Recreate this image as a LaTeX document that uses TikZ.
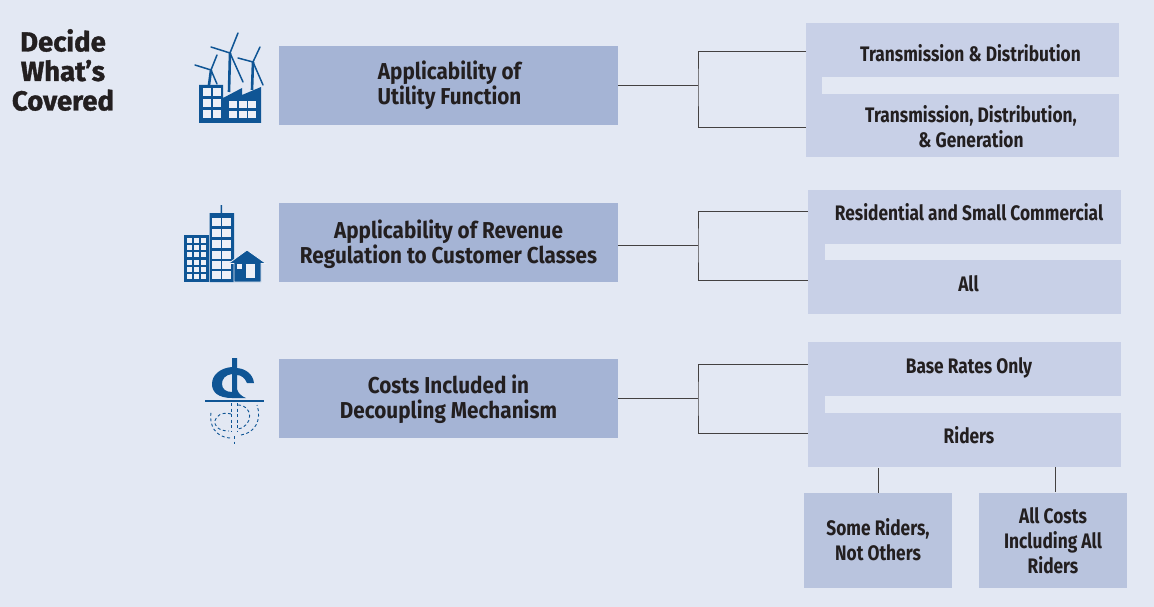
\documentclass[tikz,border=0pt]{standalone}
\usepackage{fontspec}
\setmainfont{Fira Sans}[BoldFont={Fira Sans Bold}]
\newfontfamily\lblfont{Fira Sans}[FakeStretch=0.825,BoldFont={Fira Sans Bold}]
\newfontfamily\mainfont{Fira Sans}[FakeStretch=0.90,BoldFont={Fira Sans Bold}]
\newfontfamily\ttlfont{Fira Sans}[FakeBold=1.2,BoldFont={Fira Sans Bold}]
\definecolor{bg}{HTML}{E3E8F3}
\definecolor{mainbox}{HTML}{A5B4D5}
\definecolor{subbox}{HTML}{C8D0E7}
\definecolor{leafbox}{HTML}{B9C4DE}
\definecolor{ink}{HTML}{231F20}
\definecolor{icon}{HTML}{0F5595}
\definecolor{win}{HTML}{EDF0F7}
\tikzset{
  x=1pt,y=-1pt,
  boxbase/.style={anchor=north west,inner sep=0pt,outer sep=0pt},
  lbl/.style={align=center,text=ink,inner sep=0pt,font=\lblfont\fontsize{21}{25}\selectfont\bfseries},
  mainlbl/.style={align=center,text=ink,inner sep=0pt,font=\mainfont\fontsize{23}{25}\selectfont\bfseries},
  mainnode/.style={boxbase,fill=mainbox,minimum width=339pt,minimum height=79pt},
  subnode/.style={boxbase,fill=subbox,minimum width=313pt,minimum height=54pt},
  leafnode/.style={boxbase,fill=leafbox,minimum width=148pt,minimum height=95pt},
  link/.style={draw=ink!85!white,line width=0.9pt},
  iconfill/.style={fill=icon,draw=none},
  blade/.style={draw=icon,line width=1.5pt,line cap=round},
  tower/.style={draw=icon,line width=2.6pt},
  winfill/.style={fill=win,draw=none},
}
\begin{document}
\begin{tikzpicture}
\useasboundingbox (0,0) rectangle (1154,607);
\fill[bg] (0,0) rectangle (1154,607);
\node[anchor=center,align=center,text=ink,inner sep=0pt,font=\ttlfont\fontsize{27.5}{29.5}\selectfont\bfseries] (title) at (63,70) {Decide\\What’s\\Covered};
% left bars that join each pair of boxes
\fill[subbox] (806,23) rectangle (822,157);
\fill[subbox] (808,190) rectangle (825,314);
\fill[subbox] (808,342) rectangle (825,467);
\node[mainnode,label={[mainlbl,xshift=1pt,yshift=0pt]center:Applicability of\\Utility Function}] (m1) at (279,46) {};
\node[mainnode,label={[mainlbl,yshift=-2pt]center:Applicability of Revenue\\Regulation to Customer Classes}] (m2) at (279,203) {};
\node[mainnode,label={[mainlbl,yshift=-1pt]center:Costs Included in\\Decoupling Mechanism}] (m3) at (279,359) {};
\node[subnode,label={[lbl,xshift=8pt,yshift=-3pt]center:Transmission \& Distribution}] (a1) at (806,23) {};
\node[subnode,minimum height=63pt,label={[lbl,xshift=8.5pt,yshift=-1pt]center:Transmission, Distribution,\\\& Generation}] (a2) at (806,94) {};
\node[subnode,label={[lbl,xshift=4.5pt,yshift=5pt]center:Residential and Small Commercial}] (b1) at (808,190) {};
\node[subnode,label={[lbl,xshift=4pt,yshift=3pt]center:All}] (b2) at (808,260) {};
\node[subnode,label={[lbl,xshift=4.5pt,yshift=1pt]center:Base Rates Only}] (c1) at (808,342) {};
\node[subnode,label={[lbl,xshift=4.5pt,yshift=5pt]center:Riders}] (c2) at (808,413) {};
\node[leafnode,label={[lbl,yshift=1pt]center:Some Riders,\\Not Others}] (d1) at (804,493) {};
\node[leafnode,label={[lbl]center:All Costs\\Including All\\Riders}] (d2) at (979,493) {};
\draw[link] (m1.east) -- ++(80,0) coordinate (j1);
\draw[link] ([yshift=-2.5pt]m2.east) -- ++(80,0) coordinate (j2);
\draw[link] (m3.east) -- ++(80,0) coordinate (j3);
\draw[link] ([yshift=-1pt]a1.west) -| (j1) |- ([yshift=-1.5pt]a2.west);
\draw[link] ([yshift=6pt]b1.west) -| (j2) |- ([yshift=7pt]b2.west);
\draw[link] ([yshift=5pt]c1.west) -| (j3) |- ([yshift=7pt]c2.west);
\draw[link] (d1.north) ++(0,-25) -- (d1.north);
\draw[link] ([xshift=2.5pt]d2.north) ++(0,-26) -- ([xshift=2.5pt,yshift=1pt]d2.north);
% factory and turbines
\draw[tower] (209,85) -- (211,70) (229,92) -- (230,53) (252,90) -- (253,62);
\draw[blade] (211,70) -- (195,65) (211,70) -- (217,55) (211,70) -- (217,84);
\draw[blade] (230,53) -- (211,47) (230,53) -- (238,33) (230,53) -- (243,82);
\draw[blade] (253,62) -- (238,58) (253,62) -- (260,47) (253,62) -- (263,85);
\fill[iconfill] (199,123) -- (199,85) -- (223,85) -- (223,98) -- (242,88) -- (242,95) -- (261,87) -- (261,123) -- cycle;
\foreach \cx in {203,213} \foreach \cy in {88,99,110}
  \fill[winfill] (\cx,\cy) rectangle ++(8,8);
\foreach \cx in {229,239,248} \foreach \cy in {101,111}
  \fill[winfill] (\cx,\cy) rectangle ++(7.5,7);
% city
\fill[iconfill] (184,235) rectangle (208.5,282);
\fill[iconfill] (209.5,213) -- (220.5,213) -- (220.5,205) -- (222,205) -- (222,213) -- (234,213) -- (234,282) -- (209.5,282) -- cycle;
\foreach \cx in {187,194,201} \foreach \cy in {238,245.2,252.4,259.6,266.8,274}
  \fill[winfill] (\cx,\cy) rectangle ++(5,5);
\foreach \cx in {212,222} \foreach \cy in {218,229,240,251,261,271}
  \fill[winfill] (\cx,\cy) rectangle ++(8.5,8);
\fill[iconfill,draw=win,line width=.8pt] (228.5,263.5) -- (247,250) -- (266,263.5) -- (261,263.5) -- (261,282) -- (234,282) -- (234,263.5) -- cycle;
\fill[winfill] (237,264) rectangle (242,269);
\fill[winfill] (246,264) rectangle (255,278);
% cent
\draw[icon,line width=1.6pt] (205,401) -- (264,401);
\fill[iconfill,even odd rule] (232,358) -- (237,358) -- (237,368) .. controls (247,369) and (253,375) .. (254,383) -- (247,383) .. controls (245,378) and (241,375) .. (237,375) -- (237,389) .. controls (238,393) and (241,396) .. (246,398) -- (232,398) .. controls (218,398) and (212,392) .. (212,384) .. controls (212,375) and (220,368) .. (232,367) -- cycle
  (232,374) .. controls (225,375) and (222,379) .. (222,384) .. controls (222,389) and (226,392) .. (232,392) -- cycle;
\draw[icon,line width=.9pt,dash pattern=on 3pt off 2.5pt] (231,403) -- (231,432) (237,403) -- (237,432) (234,436) -- (234,444);
\draw[icon,line width=.9pt,dash pattern=on 3pt off 2.5pt] (238,405) .. controls (253,405) and (254,426) .. (238,429) (231,414) .. controls (213,409) and (207,431) .. (229,431) (241,435) .. controls (255,433) and (262,420) .. (257,405) (230,438) .. controls (215,437) and (209,425) .. (211,412);
\end{tikzpicture}
\end{document}
